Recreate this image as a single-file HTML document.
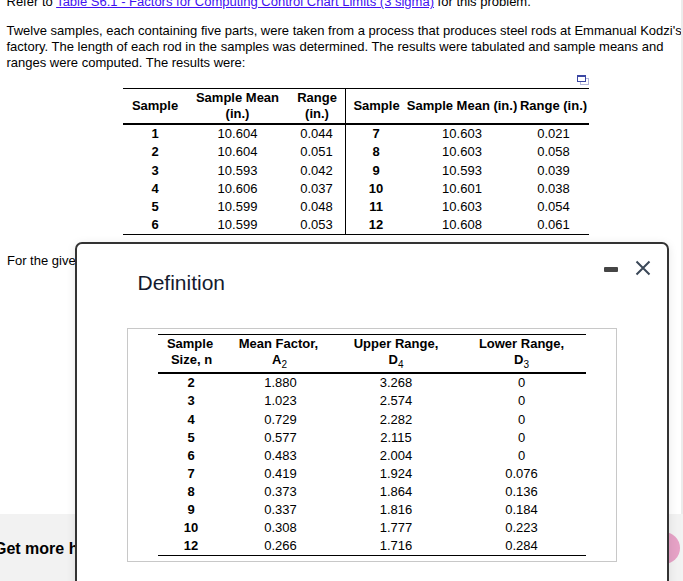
<!DOCTYPE html>
<html><head><meta charset="utf-8">
<style>
html,body{margin:0;padding:0;width:683px;height:581px;overflow:hidden;background:#fff;}
body{position:relative;font-family:"Liberation Sans",sans-serif;font-size:13px;color:#000;}
.a{position:absolute;white-space:nowrap;line-height:16px;}
.c{position:absolute;white-space:nowrap;text-align:center;line-height:16px;}
.b{font-weight:bold;}
.ln{position:absolute;background:#000;}
a{color:#3f11f0;text-decoration:underline;}
sub{font-weight:normal;font-size:10px;vertical-align:baseline;position:relative;top:4px;}
</style></head><body>

<div class="a" style="left:6.5px;top:-6px;">Refer to <a>Table S6.1 - Factors for Computing Control Chart Limits (3 sigma)</a> for this problem.</div>
<div class="a" style="left:6.5px;top:23px;">Twelve samples, each containing five parts, were taken from a process that produces steel rods at Emmanual Kodzi's<br>factory. The length of each rod in the samples was determined. The results were tabulated and sample means and<br>ranges were computed. The results were:</div>

<div style="position:absolute;left:580px;top:78px;width:7px;height:5px;border:1px solid #b3b6da;"></div>
<div style="position:absolute;left:577px;top:75px;width:7px;height:4px;border:1px solid #3c47a3;border-top-width:2px;background:#fff;"></div>

<div class="ln" style="left:123px;top:88px;width:466px;height:1px;"></div>
<div class="ln" style="left:123px;top:123px;width:466px;height:2px;"></div>
<div class="ln" style="left:123px;top:234px;width:466px;height:1px;"></div>
<div class="ln" style="left:345px;top:89px;width:1px;height:145px;"></div>
<div class="c b" style="left:95px;top:97.5px;width:120px;">Sample</div>
<div class="c b" style="left:177.5px;top:90px;width:120px;">Sample Mean</div>
<div class="c b" style="left:177.5px;top:106px;width:120px;">(in.)</div>
<div class="c b" style="left:257px;top:90px;width:120px;">Range</div>
<div class="c b" style="left:257px;top:106px;width:120px;">(in.)</div>
<div class="c b" style="left:316.5px;top:97.5px;width:120px;">Sample</div>
<div class="c b" style="left:392px;top:97.5px;width:140px;">Sample Mean (in.)</div>
<div class="c b" style="left:493.5px;top:97.5px;width:120px;">Range (in.)</div>
<div class="c b" style="left:95px;top:126px;width:120px;">1</div>
<div class="c" style="left:177.5px;top:126px;width:120px;">10.604</div>
<div class="c" style="left:256.5px;top:126px;width:120px;">0.044</div>
<div class="c b" style="left:316px;top:126px;width:120px;">7</div>
<div class="c" style="left:402px;top:126px;width:120px;">10.603</div>
<div class="c" style="left:493.5px;top:126px;width:120px;">0.021</div>
<div class="c b" style="left:95px;top:144px;width:120px;">2</div>
<div class="c" style="left:177.5px;top:144px;width:120px;">10.604</div>
<div class="c" style="left:256.5px;top:144px;width:120px;">0.051</div>
<div class="c b" style="left:316px;top:144px;width:120px;">8</div>
<div class="c" style="left:402px;top:144px;width:120px;">10.603</div>
<div class="c" style="left:493.5px;top:144px;width:120px;">0.058</div>
<div class="c b" style="left:95px;top:163px;width:120px;">3</div>
<div class="c" style="left:177.5px;top:163px;width:120px;">10.593</div>
<div class="c" style="left:256.5px;top:163px;width:120px;">0.042</div>
<div class="c b" style="left:316px;top:163px;width:120px;">9</div>
<div class="c" style="left:402px;top:163px;width:120px;">10.593</div>
<div class="c" style="left:493.5px;top:163px;width:120px;">0.039</div>
<div class="c b" style="left:95px;top:181px;width:120px;">4</div>
<div class="c" style="left:177.5px;top:181px;width:120px;">10.606</div>
<div class="c" style="left:256.5px;top:181px;width:120px;">0.037</div>
<div class="c b" style="left:316px;top:181px;width:120px;">10</div>
<div class="c" style="left:402px;top:181px;width:120px;">10.601</div>
<div class="c" style="left:493.5px;top:181px;width:120px;">0.038</div>
<div class="c b" style="left:95px;top:199px;width:120px;">5</div>
<div class="c" style="left:177.5px;top:199px;width:120px;">10.599</div>
<div class="c" style="left:256.5px;top:199px;width:120px;">0.048</div>
<div class="c b" style="left:316px;top:199px;width:120px;">11</div>
<div class="c" style="left:402px;top:199px;width:120px;">10.603</div>
<div class="c" style="left:493.5px;top:199px;width:120px;">0.054</div>
<div class="c b" style="left:95px;top:217px;width:120px;">6</div>
<div class="c" style="left:177.5px;top:217px;width:120px;">10.599</div>
<div class="c" style="left:256.5px;top:217px;width:120px;">0.053</div>
<div class="c b" style="left:316px;top:217px;width:120px;">12</div>
<div class="c" style="left:402px;top:217px;width:120px;">10.608</div>
<div class="c" style="left:493.5px;top:217px;width:120px;">0.061</div>

<div class="a" style="left:7px;top:253px;">For the given data</div>

<div style="position:absolute;left:0;top:514px;width:681px;height:67px;background:#f2f2f2;"></div>
<div class="a b" style="left:-6px;top:540px;font-size:16px;line-height:18px;">Get more help</div>
<div style="position:absolute;left:648px;top:532px;width:32px;height:32px;border-radius:50%;background:#e6a2c6;"></div>
<div style="position:absolute;left:681px;top:0;width:2px;height:514px;background:#ececec;"></div><div style="position:absolute;left:681px;top:514px;width:2px;height:67px;background:#f3f3f3;"></div>

<div style="position:absolute;left:75px;top:242px;width:590px;height:400px;border:2px solid #333;border-radius:7px;background:#fff;box-shadow:0 2px 10px rgba(0,0,0,0.1);"></div>
<div class="a" style="left:137.5px;top:271px;font-size:21px;line-height:24px;color:#141a2e;">Definition</div>
<div style="position:absolute;left:604px;top:267px;width:13.5px;height:5px;background:#454545;border-radius:1px;"></div>
<svg style="position:absolute;left:635px;top:260px;" width="16" height="16" viewBox="0 0 16 16"><path d="M1.5 1.5 L14.5 14.5 M14.5 1.5 L1.5 14.5" stroke="#3b4858" stroke-width="2" fill="none"/></svg>

<div style="position:absolute;left:127px;top:328px;width:488px;height:232px;border:1px solid #c8c8c8;"></div>
<div class="ln" style="left:158px;top:334px;width:428px;height:1px;"></div>
<div class="ln" style="left:158px;top:372px;width:428px;height:2px;"></div>
<div class="ln" style="left:158px;top:555px;width:428px;height:1px;"></div>
<div class="c b" style="left:130px;top:336px;width:120px;">Sample</div>
<div class="c b" style="left:131.5px;top:352px;width:120px;">Size, n</div>
<div class="c b" style="left:218.5px;top:336px;width:120px;">Mean Factor,</div>
<div class="c b" style="left:219.5px;top:352px;width:120px;">A<sub>2</sub></div>
<div class="c b" style="left:336px;top:336px;width:120px;">Upper Range,</div>
<div class="c b" style="left:336px;top:352px;width:120px;">D<sub>4</sub></div>
<div class="c b" style="left:461.5px;top:336px;width:120px;">Lower Range,</div>
<div class="c b" style="left:461.5px;top:352px;width:120px;">D<sub>3</sub></div>
<div class="c b" style="left:131px;top:375px;width:120px;">2</div>
<div class="c" style="left:220.5px;top:375px;width:120px;">1.880</div>
<div class="c" style="left:336px;top:375px;width:120px;">3.268</div>
<div class="c" style="left:461.5px;top:375px;width:120px;">0</div>
<div class="c b" style="left:131px;top:393px;width:120px;">3</div>
<div class="c" style="left:220.5px;top:393px;width:120px;">1.023</div>
<div class="c" style="left:336px;top:393px;width:120px;">2.574</div>
<div class="c" style="left:461.5px;top:393px;width:120px;">0</div>
<div class="c b" style="left:131px;top:412px;width:120px;">4</div>
<div class="c" style="left:220.5px;top:412px;width:120px;">0.729</div>
<div class="c" style="left:336px;top:412px;width:120px;">2.282</div>
<div class="c" style="left:461.5px;top:412px;width:120px;">0</div>
<div class="c b" style="left:131px;top:430px;width:120px;">5</div>
<div class="c" style="left:220.5px;top:430px;width:120px;">0.577</div>
<div class="c" style="left:336px;top:430px;width:120px;">2.115</div>
<div class="c" style="left:461.5px;top:430px;width:120px;">0</div>
<div class="c b" style="left:131px;top:448px;width:120px;">6</div>
<div class="c" style="left:220.5px;top:448px;width:120px;">0.483</div>
<div class="c" style="left:336px;top:448px;width:120px;">2.004</div>
<div class="c" style="left:461.5px;top:448px;width:120px;">0</div>
<div class="c b" style="left:131px;top:466px;width:120px;">7</div>
<div class="c" style="left:220.5px;top:466px;width:120px;">0.419</div>
<div class="c" style="left:336px;top:466px;width:120px;">1.924</div>
<div class="c" style="left:461.5px;top:466px;width:120px;">0.076</div>
<div class="c b" style="left:131px;top:484px;width:120px;">8</div>
<div class="c" style="left:220.5px;top:484px;width:120px;">0.373</div>
<div class="c" style="left:336px;top:484px;width:120px;">1.864</div>
<div class="c" style="left:461.5px;top:484px;width:120px;">0.136</div>
<div class="c b" style="left:131px;top:502px;width:120px;">9</div>
<div class="c" style="left:220.5px;top:502px;width:120px;">0.337</div>
<div class="c" style="left:336px;top:502px;width:120px;">1.816</div>
<div class="c" style="left:461.5px;top:502px;width:120px;">0.184</div>
<div class="c b" style="left:131px;top:520px;width:120px;">10</div>
<div class="c" style="left:220.5px;top:520px;width:120px;">0.308</div>
<div class="c" style="left:336px;top:520px;width:120px;">1.777</div>
<div class="c" style="left:461.5px;top:520px;width:120px;">0.223</div>
<div class="c b" style="left:131px;top:538px;width:120px;">12</div>
<div class="c" style="left:220.5px;top:538px;width:120px;">0.266</div>
<div class="c" style="left:336px;top:538px;width:120px;">1.716</div>
<div class="c" style="left:461.5px;top:538px;width:120px;">0.284</div>
</body></html>
